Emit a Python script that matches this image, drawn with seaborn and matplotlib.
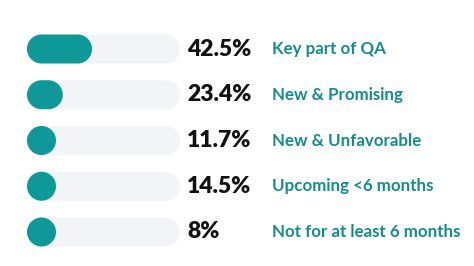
import matplotlib
matplotlib.use("Agg")
import matplotlib.pyplot as plt
import seaborn as sns
import numpy as np
from matplotlib.patches import Polygon

categories = ["Key part of QA", "New & Promising", "New & Unfavorable",
              "Upcoming <6 months", "Not for at least 6 months"]
values = [42.5, 23.4, 11.7, 14.5, 8.0]
value_labels = ["42.5%", "23.4%", "11.7%", "14.5%", "8%"]
track = [100] * len(categories)

TEAL = "#0E9898"
TRACK = "#F3F4F8"
LABEL = "#148C8B"

W, H = 474, 266
fig = plt.figure(figsize=(W / 100, H / 100), dpi=100)
ax = fig.add_axes([0, 0, 1, 1])

px_x = 153 / 100.0          # pixels per x unit
row_px = 45.75
bar_px = 29
bar_h = bar_px / row_px

sns.barplot(x=track, y=categories, color=TRACK, width=bar_h, ax=ax,
            orient="h", saturation=1)
sns.barplot(x=values, y=categories, color=TEAL, width=bar_h, ax=ax,
            orient="h", saturation=1)

x0 = -27 / px_x
ax.set_xlim(x0, x0 + W / px_x)
ytop = -49 / row_px
ax.set_ylim(ytop + H / row_px, ytop)

# turn seaborn's rectangular bars into pill shapes
rx = (bar_px / 2) / px_x       # radius in x units
ry = bar_h / 2                 # radius in y units
t_r = np.linspace(-np.pi / 2, np.pi / 2, 40)
t_l = np.linspace(np.pi / 2, 3 * np.pi / 2, 40)
patches = list(ax.patches)
n = len(categories)
for i, p in enumerate(patches):
    x, y = p.get_x(), p.get_y()
    w, h = p.get_width(), p.get_height()
    w = max(w, 2 * rx)
    yc = y + h / 2
    cl, cr = x + rx, x + w - rx
    xs = np.concatenate([cr + rx * np.cos(t_r), cl + rx * np.cos(t_l)])
    ys = np.concatenate([yc + ry * np.sin(t_r), yc + ry * np.sin(t_l)])
    fc = p.get_facecolor()
    p.set_visible(False)
    ax.add_patch(Polygon(np.column_stack([xs, ys]), closed=True,
                         facecolor=fc, edgecolor="none",
                         zorder=2 + (i >= n)))

for i, (v, c) in enumerate(zip(value_labels, categories)):
    ax.text(104.5, i, v, ha="left", va="center", fontsize=16.5,
            fontweight="heavy", color="#111111", family="Lato")
    ax.text(160.1, i, c, ha="left", va="center", fontsize=12.2,
            fontweight="bold", color=LABEL, family="Lato")

ax.axis("off")
fig.savefig("out.png", dpi=100, facecolor="white")
